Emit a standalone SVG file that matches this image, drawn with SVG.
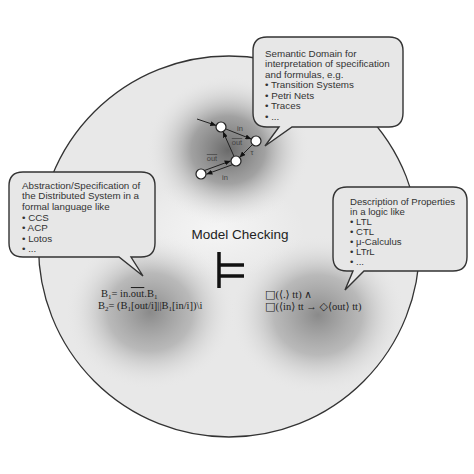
<svg xmlns="http://www.w3.org/2000/svg" width="474" height="474" viewBox="0 0 474 474">
<style>
.bt{font-family:"Liberation Sans","DejaVu Sans",sans-serif;font-size:9.8px;fill:#333}
.lbl{font-family:"Liberation Sans","DejaVu Sans",sans-serif;font-size:7.5px;fill:#444;text-anchor:middle}
.fm{font-family:"Liberation Serif","DejaVu Serif",serif;font-size:10.5px;fill:#222}
.bubble{fill:#e7e7e7;stroke:#333;stroke-width:1.4;stroke-linejoin:miter}
.st{fill:#fff;stroke:#222;stroke-width:1.2}
.edge{fill:none;stroke:#222;stroke-width:1}
.ov{text-decoration:overline}
</style>
<defs>
<radialGradient id="blobT" cx="0.5" cy="0.5" r="0.5">
<stop offset="0" stop-color="#6a6a6a" stop-opacity="1"/>
<stop offset="0.45" stop-color="#8a8a8a" stop-opacity="0.75"/>
<stop offset="1" stop-color="#e9e9e9" stop-opacity="0"/>
</radialGradient>
<radialGradient id="blobB" cx="0.5" cy="0.5" r="0.5">
<stop offset="0" stop-color="#858585" stop-opacity="0.95"/>
<stop offset="0.5" stop-color="#a0a0a0" stop-opacity="0.65"/>
<stop offset="1" stop-color="#e9e9e9" stop-opacity="0"/>
</radialGradient>
<radialGradient id="hl" cx="0.5" cy="0.5" r="0.5">
<stop offset="0" stop-color="#f6f6f6" stop-opacity="0.9"/>
<stop offset="1" stop-color="#f6f6f6" stop-opacity="0"/>
</radialGradient>
<clipPath id="cc"><circle cx="229" cy="246.5" r="190.5"/></clipPath>
<marker id="ah" markerUnits="userSpaceOnUse" markerWidth="6" markerHeight="5" refX="6" refY="2.5" orient="auto">
<path d="M0,0 L6,2.5 L0,5 z" fill="#111"/>
</marker>
</defs>
<rect width="474" height="474" fill="#fff"/>
<g id="domain">
<circle cx="229" cy="246.5" r="190.5" fill="#e8e8e8"/>
<g clip-path="url(#cc)">
<ellipse cx="215" cy="230" rx="90" ry="50" fill="url(#hl)"/>
<ellipse cx="228" cy="150" rx="82" ry="75" fill="url(#blobT)"/>
<ellipse cx="150" cy="312" rx="85" ry="78" fill="url(#blobB)"/>
<ellipse cx="318" cy="315" rx="88" ry="80" fill="url(#blobB)"/>
</g>
<circle cx="229" cy="246.5" r="190.5" fill="none" stroke="#333" stroke-width="1.3"/>
</g>
<g id="title">
<text x="240" y="239" text-anchor="middle" style="font-family:'Liberation Sans','DejaVu Sans',sans-serif;font-size:13.5px;fill:#222">Model Checking</text>
</g>
<g id="models">
<path d="M219,252 V288 M219,265 H244 M219,276 H244" fill="none" stroke="#111" stroke-width="3.5"/>
</g>
<g id="connectors">
<path class="edge" d="M197,119 L216.3,125.5" marker-end="url(#ah)"/>
<path class="edge" d="M225.6,128.9 L251.4,139.1" marker-end="url(#ah)"/>
<path class="edge" d="M252.5,144.5 L239.5,157.5" marker-end="url(#ah)"/>
<path class="edge" d="M234,156.4 L223,131.6" marker-end="url(#ah)"/>
<path class="edge" d="M205,170.3 L230.6,160.9" marker-end="url(#ah)"/>
<path class="edge" d="M232.4,164.7 L206.4,174.2" marker-end="url(#ah)"/>
<text class="lbl" x="240" y="131">in</text>
<text class="lbl" x="252" y="155">τ</text>
<text class="lbl" x="237" y="145"><tspan class="ov">out</tspan></text>
<text class="lbl" x="212" y="161"><tspan class="ov">out</tspan></text>
<text class="lbl" x="225" y="180">in</text>
</g>
<g id="s0"><circle class="st" cx="221" cy="127" r="5"/></g>
<g id="s1"><circle class="st" cx="256" cy="141" r="5"/></g>
<g id="s2"><circle class="st" cx="236" cy="161" r="5"/></g>
<g id="s3"><circle class="st" cx="201" cy="174" r="5"/></g>
<g id="bubble-semantic">
<path class="bubble" d="M267,37 H389 Q403,37 403,51 V113 Q403,127 389,127 H292 L265,146 L279,127 H267 Q253,127 253,113 V51 Q253,37 267,37 Z"/>
<text class="bt" x="265" y="56.5">Semantic Domain for</text>
<text class="bt" x="265" y="67">interpretation of specification</text>
<text class="bt" x="265" y="77.5">and formulas, e.g.</text>
<text class="bt" x="265" y="88">• Transition Systems</text>
<text class="bt" x="265" y="98.5">• Petri Nets</text>
<text class="bt" x="265" y="109">• Traces</text>
<text class="bt" x="265" y="119.5">• ...</text>
</g>
<g id="bubble-spec">
<path class="bubble" d="M23,172 H141 Q155,172 155,186 V243 Q155,257 141,257 H131 L143,276 L119,257 H23 Q9,257 9,243 V186 Q9,172 23,172 Z"/>
<text class="bt" x="22" y="188.5">Abstraction/Specification of</text>
<text class="bt" x="22" y="199">the Distributed System in a</text>
<text class="bt" x="22" y="209.5">formal language like</text>
<text class="bt" x="22" y="220.5">• CCS</text>
<text class="bt" x="22" y="231">• ACP</text>
<text class="bt" x="22" y="241.5">• Lotos</text>
<text class="bt" x="22" y="252">• ...</text>
</g>
<g id="bubble-props">
<path class="bubble" d="M347,187 H453 Q467,187 467,201 V257 Q467,271 453,271 H364 L345,290 L353,271 H347 Q333,271 333,257 V201 Q333,187 347,187 Z"/>
<text class="bt" x="350" y="204.5" style="font-size:9.6px">Description of Properties</text>
<text class="bt" x="350" y="214.5" style="font-size:9.6px">in a logic like</text>
<text class="bt" x="350" y="224.5" style="font-size:9.6px">• LTL</text>
<text class="bt" x="350" y="234.5" style="font-size:9.6px">• CTL</text>
<text class="bt" x="350" y="244.5" style="font-size:9.6px">• μ-Calculus</text>
<text class="bt" x="350" y="254.5" style="font-size:9.6px">• LTrL</text>
<text class="bt" x="350" y="264.5" style="font-size:9.6px">• ...</text>
</g>
<g id="spec-formula">
<text class="fm" x="101" y="297">B<tspan font-size="7" dy="2">1</tspan><tspan dy="-2">= in.</tspan><tspan class="ov">out</tspan>.B<tspan font-size="7" dy="2">1</tspan></text>
<text class="fm" x="98" y="309">B<tspan font-size="7" dy="2">2</tspan><tspan dy="-2">= (B</tspan><tspan font-size="7" dy="2">1</tspan><tspan dy="-2">[out/i]||B</tspan><tspan font-size="7" dy="2">1</tspan><tspan dy="-2">[in/i])\i</tspan></text>
</g>
<g id="prop-formula">
<text class="fm" x="265" y="298"><tspan style="font-family:'DejaVu Sans',sans-serif;font-size:11px">□</tspan>(⟨.⟩ tt) ∧</text>
<text class="fm" x="265" y="310"><tspan style="font-family:'DejaVu Sans',sans-serif;font-size:11px">□</tspan>(⟨in⟩ tt → <tspan style="font-family:'DejaVu Sans',sans-serif;font-size:11px">◇</tspan>⟨out⟩ tt)</text>
</g>
</svg>
